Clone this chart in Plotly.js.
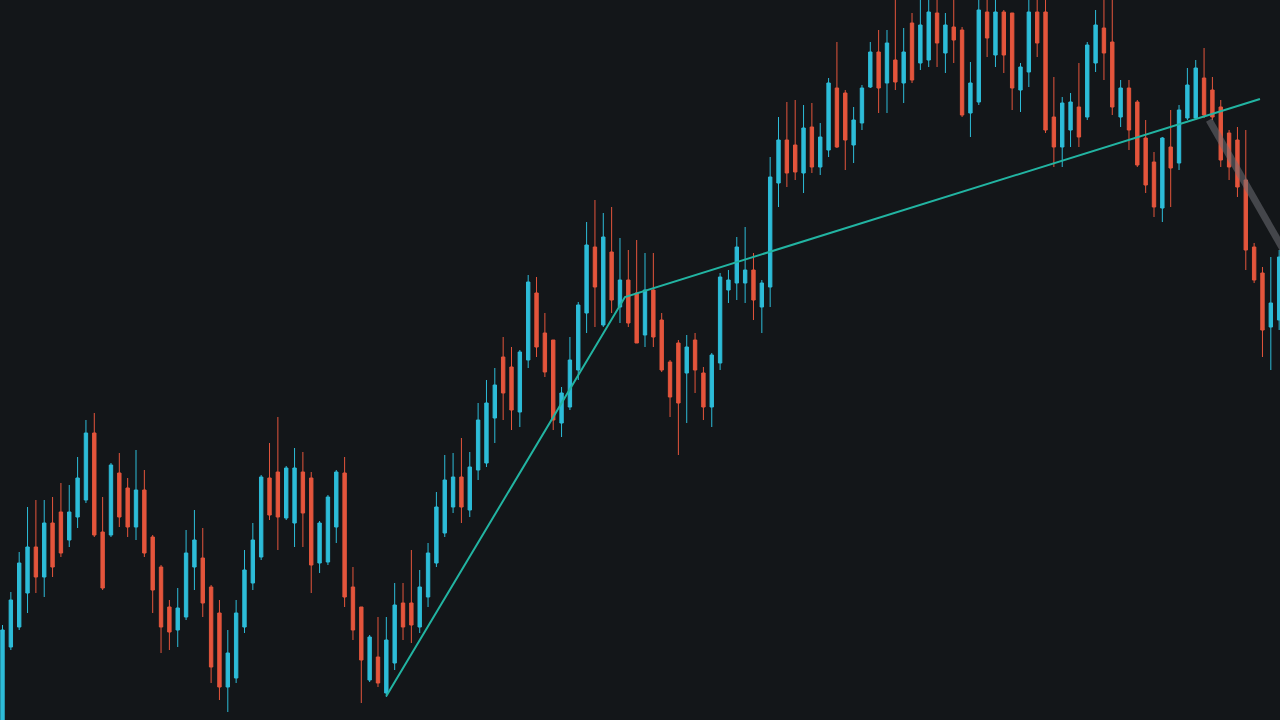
<!DOCTYPE html>
<html>
<head>
<meta charset="utf-8">
<script src="https://cdn.plot.ly/plotly-3.0.1.min.js"></script>
<style>
  html, body { margin: 0; padding: 0; background: #131619; }
  #chart { width: 1280px; height: 720px; filter: blur(0.45px); }
</style>
</head>
<body>
<div id="chart"></div>
<script>
// Candle values (price units, 0 = bottom edge, 720 = top edge)
const openVals = [
  -2, 73, 93, 127, 173, 143, 197, 208, 180, 203, 220, 287, 188, 185, 247, 232, 193, 230, 183, 153,
  113, 90, 103, 153, 162, 133, 107, 33, 42, 93, 137, 163, 242, 248, 202, 197, 248, 242, 157, 158,
  193, 247, 133, 113, 40, 63, 27, 57, 117, 117, 93, 123, 157, 187, 213, 243, 210, 250, 257, 302,
  363, 353, 308, 360, 427, 387, 380, 297, 313, 350, 407, 473, 395, 468, 413, 440, 427, 385, 430, 400,
  358, 377, 347, 380, 347, 313, 357, 430, 437, 437, 450, 413, 433, 537, 580, 575, 547, 593, 553, 570,
  632, 627, 575, 597, 633, 668, 637, 660, 637, 697, 657, 660, 707, 667, 693, 690, 607, 618, 708, 665,
  708, 707, 630, 648, 708, 708, 603, 573, 590, 613, 603, 657, 692, 678, 603, 632, 618, 582, 558, 512,
  573, 557, 602, 602, 642, 630, 613, 587, 580, 540, 473, 447, 393, 400
];
const highVals = [
  95, 128, 168, 213, 220, 220, 223, 237, 235, 263, 300, 307, 223, 257, 267, 242, 270, 250, 185, 155,
  120, 132, 190, 210, 192, 135, 120, 90, 120, 170, 197, 245, 277, 303, 254, 272, 268, 248, 199, 225,
  250, 263, 153, 113, 85, 103, 103, 137, 137, 170, 150, 177, 228, 265, 267, 282, 268, 317, 340, 352,
  383, 373, 370, 445, 443, 407, 380, 333, 383, 418, 498, 520, 507, 513, 482, 470, 480, 467, 467, 407,
  360, 380, 385, 387, 353, 367, 447, 450, 483, 493, 467, 440, 563, 603, 618, 620, 615, 617, 597, 642,
  678, 630, 613, 635, 678, 690, 690, 720, 692, 707, 720, 725, 725, 707, 725, 693, 658, 725, 725, 725,
  710, 707, 657, 725, 725, 725, 643, 623, 627, 657, 678, 710, 725, 725, 640, 640, 620, 600, 568, 583,
  610, 615, 652, 660, 672, 643, 620, 590, 593, 590, 477, 453, 463, 470
];
const lowVals = [
  -15, 70, 90, 107, 127, 123, 143, 163, 173, 192, 217, 183, 130, 183, 193, 183, 180, 163, 107, 67,
  70, 73, 100, 130, 103, 37, 20, 8, 37, 87, 130, 160, 200, 170, 200, 173, 173, 127, 147, 155,
  177, 113, 80, 17, 38, 33, 23, 50, 80, 77, 87, 113, 153, 183, 207, 197, 203, 240, 253, 277,
  300, 290, 293, 352, 363, 343, 290, 283, 310, 340, 387, 393, 393, 407, 397, 393, 377, 373, 373, 348,
  303, 265, 297, 327, 300, 293, 350, 417, 420, 417, 400, 387, 413, 513, 533, 540, 527, 547, 545, 563,
  572, 550, 557, 590, 632, 607, 607, 630, 617, 637, 650, 653, 653, 647, 657, 603, 583, 615, 663, 653,
  647, 610, 608, 633, 663, 587, 553, 553, 573, 573, 600, 648, 640, 605, 593, 570, 553, 527, 503, 498,
  513, 550, 600, 600, 602, 600, 553, 540, 523, 450, 437, 363, 350, 390
];
const closeVals = [
  90, 120, 157, 173, 143, 197, 153, 167, 208, 242, 287, 185, 132, 255, 203, 193, 230, 167, 130, 93,
  88, 112, 167, 180, 117, 53, 33, 67, 107, 150, 180, 243, 205, 203, 252, 252, 207, 155, 197, 223,
  248, 123, 90, 60, 83, 37, 80, 115, 93, 95, 133, 167, 213, 240, 243, 213, 253, 300, 317, 335,
  327, 310, 368, 438, 373, 348, 300, 327, 360, 415, 475, 433, 483, 420, 440, 397, 377, 430, 383, 350,
  323, 317, 373, 350, 313, 365, 443, 440, 473, 450, 420, 437, 543, 580, 547, 548, 592, 553, 583, 637,
  573, 580, 600, 632, 668, 632, 677, 638, 668, 640, 695, 708, 677, 695, 680, 605, 637, 710, 682, 708,
  665, 632, 653, 708, 677, 590, 573, 617, 618, 583, 675, 695, 667, 613, 632, 590, 555, 535, 513, 582,
  552, 610, 635, 652, 605, 603, 560, 553, 533, 470, 440, 390, 417, 463
];
// Trend lines drawn on the chart (candle index, price)
const trendX = [46, 74.6, 150.7];
const trendY = [24, 423, 621];
const greyX = [144.6, 154];
const greyY = [600, 463];

const idx = openVals.map((_, i) => i);
const upColor = '#2dbcd8';
const downColor = '#e4553c';

const traces = [
  {
    type: 'candlestick',
    x: idx, open: openVals, high: highVals, low: lowVals, close: closeVals,
    increasing: { line: { color: upColor, width: 1 }, fillcolor: upColor },
    decreasing: { line: { color: downColor, width: 1 }, fillcolor: downColor },
    whiskerwidth: 0,
    hoverinfo: 'skip'
  },
  {
    type: 'scatter', mode: 'lines', x: greyX, y: greyY,
    line: { color: 'rgba(110,112,116,0.55)', width: 7 }, hoverinfo: 'skip'
  },
  {
    type: 'scatter', mode: 'lines', x: trendX, y: trendY,
    line: { color: '#22b4a2', width: 2 }, hoverinfo: 'skip'
  }
];

const hiddenAxis = { visible: false, showgrid: false, zeroline: false, showticklabels: false, fixedrange: true };
const layout = {
  width: 1280, height: 720,
  margin: { l: 0, r: 0, t: 0, b: 0, pad: 0 },
  paper_bgcolor: '#131619', plot_bgcolor: '#131619',
  showlegend: false,
  boxgap: 0.42,
  xaxis: Object.assign({}, hiddenAxis, { range: [-0.3, 153.1], rangeslider: { visible: false } }),
  yaxis: Object.assign({}, hiddenAxis, { range: [0, 720] }),
  hovermode: false
};

Plotly.newPlot('chart', traces, layout, { staticPlot: true, displayModeBar: false });
</script>
</body>
</html>
